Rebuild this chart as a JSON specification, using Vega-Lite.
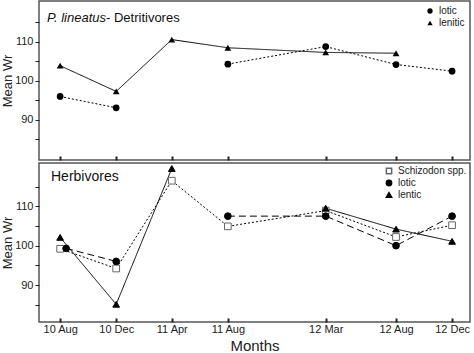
{
  "$schema": "https://vega.github.io/schema/vega-lite/v6.json",
  "padding": {"left": 0, "top": 0, "right": 0, "bottom": 0},
  "spacing": 0,
  "config": {
    "font": "Liberation Sans",
    "view": {"stroke": "#555", "strokeWidth": 1.5},
    "axis": {"grid": false, "domain": false, "labelColor": "#222", "tickColor": "#222", "titleColor": "#222", "titleFontWeight": "normal", "labelFontSize": 11},
    "legend": {"orient": "top-right", "padding": 0, "labelFontSize": 10, "rowPadding": 0, "symbolSize": 28, "labelColor": "#222", "title": null, "labelOffset": 4}
  },
  "datasets": {
    "wr": [
      {"panel": "top", "series": "lotic", "date": "2010-08-01", "wr": 96.0},
      {"panel": "top", "series": "lotic", "date": "2010-12-01", "wr": 93.1},
      {"panel": "top", "series": "lotic", "date": "2011-04-01", "wr": null},
      {"panel": "top", "series": "lotic", "date": "2011-08-01", "wr": 104.3},
      {"panel": "top", "series": "lotic", "date": "2012-03-01", "wr": 108.8},
      {"panel": "top", "series": "lotic", "date": "2012-08-01", "wr": 104.2},
      {"panel": "top", "series": "lotic", "date": "2012-12-01", "wr": 102.5},
      {"panel": "top", "series": "lenitic", "date": "2010-08-01", "wr": 103.9},
      {"panel": "top", "series": "lenitic", "date": "2010-12-01", "wr": 97.3},
      {"panel": "top", "series": "lenitic", "date": "2011-04-01", "wr": 110.6},
      {"panel": "top", "series": "lenitic", "date": "2011-08-01", "wr": 108.5},
      {"panel": "top", "series": "lenitic", "date": "2012-03-01", "wr": 107.3},
      {"panel": "top", "series": "lenitic", "date": "2012-08-01", "wr": 107.1},
      {"panel": "bottom", "series": "Schizodon spp.", "date": "2010-08-01", "wr": 99.2},
      {"panel": "bottom", "series": "Schizodon spp.", "date": "2010-12-01", "wr": 94.2},
      {"panel": "bottom", "series": "Schizodon spp.", "date": "2011-04-01", "wr": 116.5},
      {"panel": "bottom", "series": "Schizodon spp.", "date": "2011-08-01", "wr": 104.9},
      {"panel": "bottom", "series": "Schizodon spp.", "date": "2012-03-01", "wr": 108.9},
      {"panel": "bottom", "series": "Schizodon spp.", "date": "2012-08-01", "wr": 102.2},
      {"panel": "bottom", "series": "Schizodon spp.", "date": "2012-12-01", "wr": 105.2},
      {"panel": "bottom", "series": "lotic", "date": "2010-08-14", "wr": 99.3},
      {"panel": "bottom", "series": "lotic", "date": "2010-12-01", "wr": 96.0},
      {"panel": "bottom", "series": "lotic", "date": "2011-04-01", "wr": null},
      {"panel": "bottom", "series": "lotic", "date": "2011-08-01", "wr": 107.5},
      {"panel": "bottom", "series": "lotic", "date": "2012-03-01", "wr": 107.5},
      {"panel": "bottom", "series": "lotic", "date": "2012-08-01", "wr": 100.0},
      {"panel": "bottom", "series": "lotic", "date": "2012-12-01", "wr": 107.5},
      {"panel": "bottom", "series": "lentic", "date": "2010-08-01", "wr": 102.1},
      {"panel": "bottom", "series": "lentic", "date": "2010-12-01", "wr": 85.1},
      {"panel": "bottom", "series": "lentic", "date": "2011-04-01", "wr": 119.6},
      {"panel": "bottom", "series": "lentic", "date": "2011-08-01", "wr": null},
      {"panel": "bottom", "series": "lentic", "date": "2012-03-01", "wr": 109.5},
      {"panel": "bottom", "series": "lentic", "date": "2012-08-01", "wr": 104.2},
      {"panel": "bottom", "series": "lentic", "date": "2012-12-01", "wr": 101.1}
    ]
  },
  "vconcat": [
    {
      "width": 431,
      "height": 159,
      "layer": [
        {
          "data": {"name": "wr"},
          "transform": [{"filter": "datum.panel === 'top'"}],
          "encoding": {
            "x": {"field": "date", "type": "temporal", "title": null,
              "scale": {"type": "utc", "domain": ["2010-06-16", "2013-01-09"]},
              "axis": {"values": [{"year": 2010, "month": 8, "date": 1, "utc": true}, {"year": 2010, "month": 12, "date": 1, "utc": true}, {"year": 2011, "month": 4, "date": 1, "utc": true}, {"year": 2011, "month": 8, "date": 1, "utc": true}, {"year": 2012, "month": 3, "date": 1, "utc": true}, {"year": 2012, "month": 8, "date": 1, "utc": true}, {"year": 2012, "month": 12, "date": 1, "utc": true}], "labels": false, "tickSize": -4, "tickWidth": 2}},
            "y": {"field": "wr", "type": "quantitative", "title": "Mean Wr",
              "scale": {"domain": [79.7, 120.5], "nice": false, "zero": false},
              "axis": {"values": [85, 90, 95, 100, 105, 110, 115], "labelExpr": "datum.value % 10 === 0 ? datum.label : ''", "tickSize": 4, "labelPadding": 2, "titlePadding": 0, "titleFontSize": 13}}
          },
          "layer": [
            {
              "mark": {"type": "line", "color": "black", "strokeWidth": 1},
              "encoding": {
                "strokeDash": {"field": "series", "type": "nominal", "legend": null, "scale": {"domain": ["lotic", "lenitic"], "range": [[2, 2], [1, 0]]}}
              }
            },
            {
              "mark": {"type": "point", "filled": true, "opacity": 1, "size": 45},
              "encoding": {
                "shape": {"field": "series", "type": "nominal", "scale": {"domain": ["lotic", "lenitic"], "range": ["circle", "triangle-up"]}, "legend": {"offset": 5}},
                "fill": {"field": "series", "type": "nominal", "scale": {"domain": ["lotic", "lenitic"], "range": ["black", "black"]}, "legend": {"offset": 5}}
              }
            }
          ],
          "resolve": {"scale": {"strokeDash": "independent"}, "legend": {"strokeDash": "independent"}}
        },
        {
          "data": {"values": [{"t": "P. lineatus"}]},
          "mark": {"type": "text", "fontSize": 13, "fontStyle": "italic", "align": "left", "baseline": "middle", "dx": 8, "color": "#111"},
          "encoding": {
            "x": {"datum": "2010-07-21", "type": "temporal", "title": null,
              "axis": {"values": [{"year": 2010, "month": 8, "date": 1, "utc": true}, {"year": 2010, "month": 12, "date": 1, "utc": true}, {"year": 2011, "month": 4, "date": 1, "utc": true}, {"year": 2011, "month": 8, "date": 1, "utc": true}, {"year": 2012, "month": 3, "date": 1, "utc": true}, {"year": 2012, "month": 8, "date": 1, "utc": true}, {"year": 2012, "month": 12, "date": 1, "utc": true}], "labels": false, "tickSize": -4, "tickWidth": 2}},
            "y": {"datum": 116.2, "type": "quantitative", "title": "Mean Wr",
              "axis": {"values": [85, 90, 95, 100, 105, 110, 115], "labelExpr": "datum.value % 10 === 0 ? datum.label : ''", "tickSize": 4, "labelPadding": 2, "titlePadding": 0, "titleFontSize": 13}},
            "text": {"field": "t"}
          }
        },
        {
          "data": {"values": [{"t": "- Detritivores"}]},
          "mark": {"type": "text", "fontSize": 13, "align": "left", "baseline": "middle", "dx": 67, "color": "#111"},
          "encoding": {
            "x": {"datum": "2010-07-21", "type": "temporal", "title": null,
              "axis": {"values": [{"year": 2010, "month": 8, "date": 1, "utc": true}, {"year": 2010, "month": 12, "date": 1, "utc": true}, {"year": 2011, "month": 4, "date": 1, "utc": true}, {"year": 2011, "month": 8, "date": 1, "utc": true}, {"year": 2012, "month": 3, "date": 1, "utc": true}, {"year": 2012, "month": 8, "date": 1, "utc": true}, {"year": 2012, "month": 12, "date": 1, "utc": true}], "labels": false, "tickSize": -4, "tickWidth": 2}},
            "y": {"datum": 116.2, "type": "quantitative", "title": "Mean Wr",
              "axis": {"values": [85, 90, 95, 100, 105, 110, 115], "labelExpr": "datum.value % 10 === 0 ? datum.label : ''", "tickSize": 4, "labelPadding": 2, "titlePadding": 0, "titleFontSize": 13}},
            "text": {"field": "t"}
          }
        }
      ]
    },
    {
      "width": 431,
      "height": 159,
      "layer": [
        {
          "data": {"name": "wr"},
          "transform": [{"filter": "datum.panel === 'bottom'"}],
          "encoding": {
            "x": {"field": "date", "type": "temporal", "title": "Months",
              "scale": {"type": "utc", "domain": ["2010-06-16", "2013-01-09"]},
              "axis": {"values": [{"year": 2010, "month": 8, "date": 1, "utc": true}, {"year": 2010, "month": 12, "date": 1, "utc": true}, {"year": 2011, "month": 4, "date": 1, "utc": true}, {"year": 2011, "month": 8, "date": 1, "utc": true}, {"year": 2012, "month": 3, "date": 1, "utc": true}, {"year": 2012, "month": 8, "date": 1, "utc": true}, {"year": 2012, "month": 12, "date": 1, "utc": true}], "format": "%y %b", "tickSize": -4, "tickWidth": 2, "labelPadding": 5, "titleFontSize": 15, "titlePadding": 4}},
            "y": {"field": "wr", "type": "quantitative", "title": "Mean Wr",
              "scale": {"domain": [80.6, 121], "nice": false, "zero": false},
              "axis": {"values": [85, 90, 95, 100, 105, 110, 115], "labelExpr": "datum.value % 10 === 0 ? datum.label : ''", "tickSize": 4, "labelPadding": 2, "titlePadding": 0, "titleFontSize": 13}}
          },
          "layer": [
            {
              "mark": {"type": "line", "color": "black", "strokeWidth": 1},
              "encoding": {
                "strokeDash": {"field": "series", "type": "nominal", "legend": null, "scale": {"domain": ["Schizodon spp.", "lotic", "lentic"], "range": [[2, 2], [7, 4], [1, 0]]}}
              }
            },
            {
              "mark": {"type": "point", "filled": true, "opacity": 1, "size": 45, "strokeWidth": 1},
              "encoding": {
                "shape": {"field": "series", "type": "nominal", "scale": {"domain": ["Schizodon spp.", "lotic", "lentic"], "range": ["square", "circle", "triangle-up"]}, "legend": {"offset": 3}},
                "fill": {"field": "series", "type": "nominal", "scale": {"domain": ["Schizodon spp.", "lotic", "lentic"], "range": ["white", "black", "black"]}, "legend": {"offset": 3}},
                "stroke": {"field": "series", "type": "nominal", "scale": {"domain": ["Schizodon spp.", "lotic", "lentic"], "range": ["#666", "black", "black"]}, "legend": {"offset": 3}}
              }
            }
          ],
          "resolve": {"scale": {"strokeDash": "independent"}, "legend": {"strokeDash": "independent"}}
        },
        {
          "data": {"values": [{"t": "Herbivores"}]},
          "mark": {"type": "text", "fontSize": 14, "align": "left", "baseline": "middle", "dx": 12, "color": "#111"},
          "encoding": {
            "x": {"datum": "2010-07-30", "type": "temporal", "title": "Months",
              "axis": {"values": [{"year": 2010, "month": 8, "date": 1, "utc": true}, {"year": 2010, "month": 12, "date": 1, "utc": true}, {"year": 2011, "month": 4, "date": 1, "utc": true}, {"year": 2011, "month": 8, "date": 1, "utc": true}, {"year": 2012, "month": 3, "date": 1, "utc": true}, {"year": 2012, "month": 8, "date": 1, "utc": true}, {"year": 2012, "month": 12, "date": 1, "utc": true}], "format": "%y %b", "tickSize": -4, "tickWidth": 2, "labelPadding": 5, "titleFontSize": 15, "titlePadding": 4}},
            "y": {"datum": 117.5, "type": "quantitative", "title": "Mean Wr",
              "axis": {"values": [85, 90, 95, 100, 105, 110, 115], "labelExpr": "datum.value % 10 === 0 ? datum.label : ''", "tickSize": 4, "labelPadding": 2, "titlePadding": 0, "titleFontSize": 13}},
            "text": {"field": "t"}
          }
        }
      ]
    }
  ],
  "resolve": {"scale": {"x": "independent", "y": "independent", "shape": "independent", "fill": "independent", "stroke": "independent", "strokeDash": "independent"}}
}
